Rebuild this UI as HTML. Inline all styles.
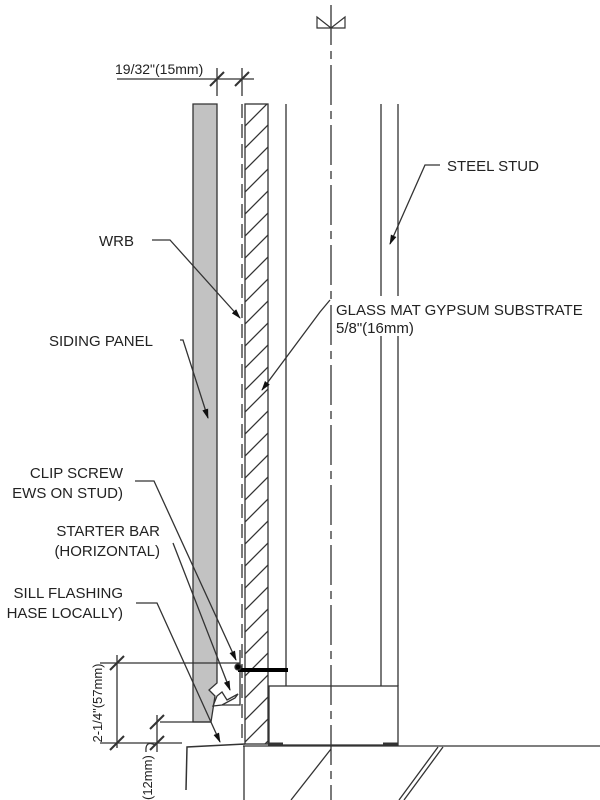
<!DOCTYPE html>
<html><head><meta charset="utf-8"><style>
html,body{margin:0;padding:0;background:#fff;overflow:hidden}
svg{display:block}
text{font-family:"Liberation Sans",sans-serif;fill:#222}
</style></head><body>
<svg width="600" height="800" viewBox="0 0 600 800" xmlns="http://www.w3.org/2000/svg">
<defs>
<pattern id="h" width="22" height="22" patternUnits="userSpaceOnUse" patternTransform="translate(245,104)">
<path d="M0 22 L22 0 M-11 11 L11 -11 M11 33 L33 11" stroke="#333" stroke-width="1.3"/>
</pattern>
<marker id="a" markerWidth="10" markerHeight="10" refX="9" refY="5" orient="auto" markerUnits="userSpaceOnUse">
<path d="M0 2 L10 5 L0 8 Z" fill="#111"/>
</marker>
</defs>
<g stroke="#333" fill="none" stroke-width="1.3">
<line x1="331" y1="5" x2="331" y2="800" stroke-dasharray="40,6,8,6"/>
<path d="M317 17 L331 28 L345 17 L345 28 L317 28 Z" stroke-width="1.2"/>
<line x1="117" y1="79" x2="254" y2="79"/>
<line x1="217" y1="68" x2="217" y2="96"/>
<line x1="242" y1="68" x2="242" y2="96"/>
<line x1="210" y1="86" x2="224" y2="72" stroke-width="2"/>
<line x1="235" y1="86" x2="249" y2="72" stroke-width="2"/>
<path d="M193 104 H217 V683 L209 690 L215 696 L211 722 H193 Z" fill="#c2c2c2"/>
<line x1="242" y1="104" x2="242" y2="745" stroke-dasharray="14,6"/>
<rect x="245" y="104" width="23" height="640" fill="url(#h)"/>
<line x1="286" y1="104" x2="286" y2="686"/>
<line x1="381" y1="104" x2="381" y2="686"/>
<line x1="398" y1="104" x2="398" y2="686"/>
<rect x="269" y="686" width="129" height="59"/>
<line x1="268" y1="744" x2="283" y2="744" stroke-width="3"/>
<line x1="383" y1="744" x2="398" y2="744" stroke-width="3"/>
<line x1="243" y1="746" x2="600" y2="746"/>
<line x1="244" y1="746" x2="244" y2="800"/>
<line x1="331" y1="749" x2="291" y2="800"/>
<line x1="438" y1="747" x2="399" y2="800"/>
<line x1="443" y1="747" x2="404" y2="800"/>
<path d="M217 696 L222 692 L227 700 L238 694 L235 698 L222 705 L213 706 Z" stroke-width="1.3"/>
<path d="M222 705 L240 705 L240 650" />
<path d="M245 744 L187 747 L186 790" stroke-width="1.5"/>
<path d="M211 722 L160 722"/>
<line x1="238" y1="670" x2="288" y2="670" stroke="#000" stroke-width="4"/>
<circle cx="238" cy="667" r="3" fill="#000"/>
<line x1="100" y1="663" x2="240" y2="663"/>
<line x1="100" y1="743" x2="182" y2="743"/>
<line x1="117" y1="655" x2="117" y2="748"/>
<line x1="110" y1="670" x2="124" y2="656" stroke-width="2"/>
<line x1="110" y1="750" x2="124" y2="736" stroke-width="2"/>
<line x1="157" y1="715" x2="157" y2="752"/>
<line x1="150" y1="729" x2="164" y2="715" stroke-width="2"/>
<line x1="150" y1="750" x2="164" y2="736" stroke-width="2"/>
<path d="M155 745 Q145 740 146 752"/>
<path d="M152 240 L170 240 L240 318" marker-end="url(#a)"/>
<path d="M180 340 L183 340 L208 418" marker-end="url(#a)"/>
<path d="M330 300 L320 312 L262 390" marker-end="url(#a)"/>
<path d="M440 165 L425 165 L390 244" marker-end="url(#a)"/>
<path d="M135 481 L154 481 L236 660" marker-end="url(#a)"/>
<path d="M173 543 L230 690" marker-end="url(#a)"/>
<path d="M136 603 L157 603 L220 742" marker-end="url(#a)"/>
</g>
<rect x="333" y="296" width="267" height="40" fill="#fff"/>
<g font-size="15">
<text x="115" y="74" font-size="14">19/32"(15mm)</text>
<text x="447" y="171">STEEL STUD</text>
<text x="99" y="246">WRB</text>
<text x="336" y="315">GLASS MAT GYPSUM SUBSTRATE</text>
<text x="336" y="333">5/8"(16mm)</text>
<text x="49" y="346">SIDING PANEL</text>
<text x="123" y="478" text-anchor="end">CLIP SCREW</text>
<text x="123" y="498" text-anchor="end">EWS ON STUD)</text>
<text x="160" y="536" text-anchor="end">STARTER BAR</text>
<text x="160" y="556" text-anchor="end">(HORIZONTAL)</text>
<text x="123" y="598" text-anchor="end">SILL FLASHING</text>
<text x="123" y="618" text-anchor="end">HASE LOCALLY)</text>
<text transform="translate(102,703) rotate(-90)" font-size="13" text-anchor="middle">2-1/4"(57mm)</text>
<text transform="translate(152,800) rotate(-90)" font-size="13">(12mm)</text>
</g>
</svg>
</body></html>
